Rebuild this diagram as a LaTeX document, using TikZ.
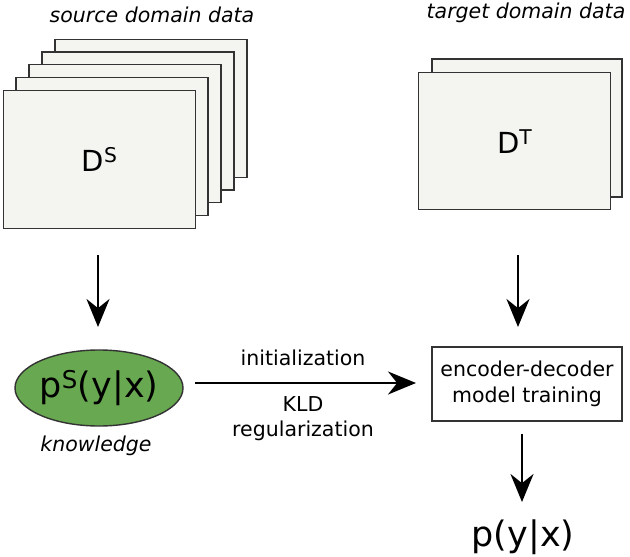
\documentclass[tikz,border=0pt]{standalone}
\usepackage{fontspec}
\setmainfont{DejaVu Sans}
\usetikzlibrary{arrows.meta,shapes.geometric}
\definecolor{sheet}{RGB}{244,245,240}
\definecolor{know}{RGB}{104,168,80}
\begin{document}
\begin{tikzpicture}[x=1pt,y=-1pt,
  page/.style={draw=black!80,fill=sheet,line width=1.4pt},
  arr/.style={-{Stealth[length=28pt,width=23pt]},line width=2.6pt}]
\useasboundingbox (0,0) rectangle (630,557);
% source stack
\foreach \i in {4,3,2,1} {
  \draw[page] (3+13*\i,90-12.7*\i) rectangle ++(192,138);
}
\node[page,minimum width=192pt,minimum height=138pt,inner sep=0pt,anchor=north west,
  font=\fontsize{29}{34}\selectfont] (ds) at (3,90) {D\textsuperscript{S}};
\node[font=\itshape\fontsize{20.5}{24}\selectfont] (st) at (152,15) {source domain data};
% target stack
\draw[page] (432,59) rectangle ++(190,138);
\node[page,minimum width=192pt,minimum height=137pt,inner sep=0pt,anchor=north west,
  font=\fontsize{29}{34}\selectfont] (dt) at (418,72) {D\textsuperscript{T}};
\node[font=\itshape\fontsize{20.5}{24}\selectfont] (tt) at (526,13) {target domain data};
% knowledge
\node[ellipse,draw=black!80,line width=1.4pt,fill=know,minimum width=166pt,minimum height=76pt,
  inner sep=0pt,font=\fontsize{35}{40}\selectfont] (ps) at (99,388) {p\textsuperscript{S}(y|x)};
\node[font=\itshape\fontsize{20.5}{24}\selectfont] (kn) at (96,446) {knowledge};
% training box
\node[draw=black!80,fill=white,line width=1.2pt,minimum width=190pt,minimum height=74pt,
  align=center,font=\fontsize{20.5}{26}\selectfont] (enc) at (527,384) {encoder-decoder\\model training};
\node[font=\fontsize{35}{40}\selectfont] (out) at (523,537) {p(y|x)};
% arrows
\coordinate (a1) at (98,255); \coordinate (a2) at (98,327);
\coordinate (b1) at (518,255); \coordinate (b2) at (518,327);
\coordinate (c1) at (195,383); \coordinate (c2) at (416,383);
\coordinate (d1) at (522,434); \coordinate (d2) at (522,502);
\draw[arr] (a1) -- (a2);
\draw[arr] (b1) -- (b2);
\draw[arr] (c1) -- (c2);
\draw[arr] (d1) -- (d2);
\node[font=\fontsize{20.5}{25}\selectfont] (ini) at (303,358) {initialization};
\node[align=center,font=\fontsize{20.5}{25}\selectfont] (kld) at (303,419) {KLD\\regularization};
\end{tikzpicture}
\end{document}
